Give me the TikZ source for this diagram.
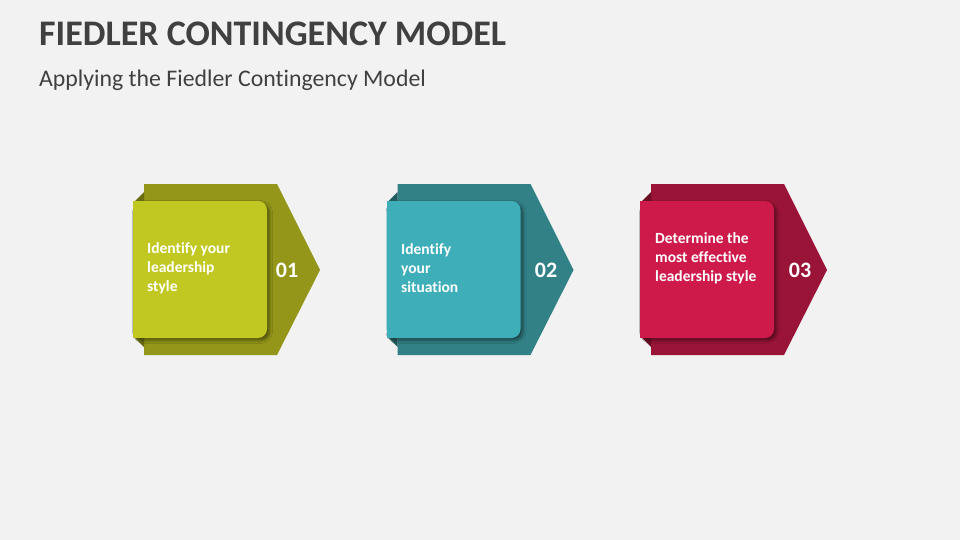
\documentclass[tikz,border=0pt]{standalone}
\usepackage{fontspec}
\setmainfont{Carlito}[Ligatures=NoCommon]
\usetikzlibrary{shadows.blur}
\definecolor{bg}{HTML}{F2F2F2}
\definecolor{titlegray}{HTML}{404040}
\definecolor{oliveD}{HTML}{939618}
\definecolor{oliveL}{HTML}{C2C822}
\definecolor{oliveF}{HTML}{6A6C10}
\definecolor{tealD}{HTML}{328187}
\definecolor{tealL}{HTML}{3EAFB9}
\definecolor{tealF}{HTML}{235C60}
\definecolor{redD}{HTML}{991436}
\definecolor{redL}{HTML}{CD1A4A}
\definecolor{redF}{HTML}{6C0E26}
\tikzset{
  steptext/.style={text=white, font=\fontsize{15.5}{19}\selectfont\bfseries, align=left, anchor=west, inner sep=0pt},
  stepnum/.style={text=white, font=\fontsize{22}{26}\selectfont\bfseries, inner sep=0pt},
  innershadow/.style={blur shadow={shadow xshift=2.5pt, shadow yshift=-2.5pt, shadow blur radius=3pt, shadow opacity=45}}
}
% #1 x offset, #2 dark, #3 light, #4 fold
\newcommand{\stepshape}[4]{%
  \begin{scope}[xshift=#1pt]
    \fill[#2] (144,184) -- (277,184) -- (320,270) -- (277,355) -- (144,355) -- cycle;
    \fill[#4] (135,201) -- (144,192) -- (144,201) -- cycle;
    \fill[#4] (135,338) -- (144,347) -- (144,338) -- cycle;
    \fill[#3, rounded corners=9pt, innershadow] (133,201) rectangle (267,338);
    \fill[#3] (133,201) rectangle (200,338);
  \end{scope}%
}
\begin{document}
\begin{tikzpicture}[x=1pt,y=-1pt]
\useasboundingbox[fill=bg] (0,0) rectangle (960,540);
\node[anchor=base west, inner sep=0pt, text=titlegray, font=\fontsize{36}{40}\selectfont\bfseries] (title) at (39,46) {FIEDLER CONTINGENCY MODEL};
\node[anchor=base west, inner sep=0pt, text=titlegray, font=\fontsize{23.8}{28}\selectfont] (subtitle) at (39,86.5) {Applying the Fiedler Contingency Model};

\stepshape{0}{oliveD}{oliveL}{oliveF}
\stepshape{253.5}{tealD}{tealL}{tealF}
\stepshape{507}{redD}{redL}{redF}

\node[steptext] (t1) at (147,268) {Identify your\\leadership\\style};
\node[steptext] (t2) at (401,268) {Identify\\your\\situation};
\node[steptext] (t3) at (655,258) {Determine the\\most effective\\leadership style};

\node[stepnum] (n1) at (287,270) {01};
\node[stepnum] (n2) at (546,270) {02};
\node[stepnum] (n3) at (800,270) {03};
\end{tikzpicture}
\end{document}
